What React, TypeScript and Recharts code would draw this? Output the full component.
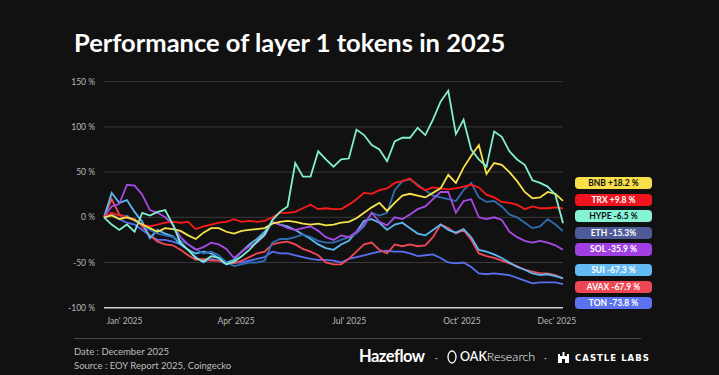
import React from 'react';
import { LineChart, Line, XAxis, YAxis, CartesianGrid } from 'recharts';

const days = [0, 6, 12, 18, 24, 30, 36, 42, 48, 54, 60, 66, 72, 78, 84, 90, 96, 102, 108, 114, 120, 126, 132, 138, 144, 150, 156, 162, 168, 174, 180, 186, 192, 198, 204, 210, 216, 222, 228, 234, 240, 246, 252, 258, 264, 270, 276, 282, 288, 294, 300, 306, 312, 318, 324, 330, 336, 342, 348, 354, 360];

const bnb = [0, 2, -2, 0, -3, -8, -12, -16, -12, -13, -15, -20, -24, -17, -12, -12, -16, -18, -15, -14, -13, -12, -7, -5, -4, -5, -7, -8, -7, -9, -8, -6, -5, -1, 5, 11, 16, 7, 16, 24, 26, 24, 22, 27, 32, 47, 38, 55, 68, 80, 48, 60, 58, 50, 40, 28, 21, 22, 28, 26, 18.2];
const trx = [0, 5, 2, 0, -3, -8, -10, -8, -6, -5, -6, -5, -13, -10, -8, -6, -5, -2, -5, -4, -5, -4, 0, 5, 5, 6, 10, 14, 9, 10, 9, 9, 14, 20, 27, 26, 30, 32, 38, 40, 43, 35, 30, 33, 32, 31, 32, 34, 36, 33, 25, 22, 17, 16, 14, 9, 12, 10, 10, 11, 9.8];
const hype = [0, -8, -14, -8, -16, 5, 2, 6, 8, -8, -28, -36, -45, -49, -43, -45, -52, -49, -43, -36, -27, -19, -3, 6, 12, 60, 45, 45, 73, 64, 56, 64, 65, 97, 91, 80, 75, 62, 84, 88, 88, 99, 91, 108, 128, 140, 92, 108, 75, 64, 56, 95, 89, 73, 64, 58, 41, 38, 34, 25, -6.5];
const eth = [0, 4, -2, 2, -4, -8, -14, -18, -20, -22, -26, -30, -35, -40, -38, -42, -50, -54, -52, -50, -50, -48, -28, -24, -24, -22, -19, -22, -26, -28, -28, -25, -22, -18, -10, 5, 2, 5, 30, 40, 42, 36, 30, 24, 22, 20, 18, 30, 38, 22, 17, 18, 12, 3, 0, -6, -12, -10, -2, -8, -15.3];
const sol = [0, 12, 15, 36, 35, 25, 8, 5, 0, -8, -22, -30, -36, -33, -28, -30, -35, -45, -38, -32, -28, -20, -5, -8, -12, -14, -12, -10, -15, -22, -25, -20, -22, -16, -8, 5, -5, -9, 0, -2, 3, 9, 12, 20, 28, 28, 5, 18, 20, 0, -2, 0, -3, -16, -22, -26, -28, -26, -28, -31, -35.9];
const sui = [0, 27, 16, 19, 6, -5, -23, -14, -18, -21, -30, -36, -40, -38, -40, -45, -50, -47, -38, -30, -24, -16, -5, -8, -10, -14, -19, -24, -30, -34, -36, -30, -26, -16, -4, -2, -6, -14, -8, -6, -12, -18, -20, -14, -8, -14, -17, -13, -22, -36, -38, -41, -45, -50, -55, -58, -62, -64, -63, -65, -67.3];
const avax = [0, 20, 3, 0, -2, -10, -20, -27, -30, -31, -36, -42, -47, -46, -48, -48, -50, -51, -48, -44, -40, -38, -30, -28, -27, -30, -35, -38, -42, -50, -52, -52, -46, -38, -30, -28, -36, -40, -30, -32, -30, -32, -31, -22, -8, -12, -18, -14, -25, -40, -43, -45, -48, -51, -54, -58, -60, -62, -62, -64, -67.9];
const ton = [0, 3, -2, -6, -8, -14, -20, -25, -25, -27, -30, -36, -44, -50, -46, -48, -52, -50, -50, -48, -46, -44, -38, -40, -40, -42, -44, -46, -47, -47, -48, -50, -46, -44, -42, -40, -38, -37, -38, -38, -40, -43, -42, -41, -45, -50, -51, -50, -55, -62, -63, -62, -63, -64, -67, -70, -73, -72, -72, -72, -73.8];

const yTicks = [-100, -50, 0, 50, 100, 150];
const xTickDays = [2, 89, 179, 266, 340];
const xTickLabels = ["Jan' 2025", "Apr' 2025", "Jul' 2025", "Oct' 2025", "Dec' 2025"];

const legendLabels = ['BNB +18.2 %', 'TRX +9.8 %', 'HYPE -6.5 %', 'ETH -15.3%', 'SOL -35.9 %', 'SUI -67.3 %', 'AVAX -67.9 %', 'TON -73.8 %'];

const seriesDefs = [
  { key: 'TON', values: ton, color: '#5a6ff0' },
  { key: 'AVAX', values: avax, color: '#f04a55' },
  { key: 'SUI', values: sui, color: '#5cb8f2' },
  { key: 'ETH', values: eth, color: '#2f6db3' },
  { key: 'SOL', values: sol, color: '#a84ae6' },
  { key: 'TRX', values: trx, color: '#ff1a1a' },
  { key: 'BNB', values: bnb, color: '#f7e24a' },
  { key: 'HYPE', values: hype, color: '#80f0d2' },
];

const pillStyles = [
  { bg: '#f9e04b', fg: '#111' },
  { bg: '#f0141e', fg: '#fff' },
  { bg: '#86f2d6', fg: '#111' },
  { bg: '#4f5b98', fg: '#fff' },
  { bg: '#a23fe0', fg: '#fff' },
  { bg: '#63b9f2', fg: '#fff' },
  { bg: '#ee4652', fg: '#fff' },
  { bg: '#5b73ef', fg: '#fff' },
];

const data = days.map((d, i) => {
  const row: any = { day: d };
  seriesDefs.forEach((s) => { row[s.key] = s.values[i]; });
  return row;
});

const XTick = (props: any) => {
  const { x, y, payload } = props;
  const idx = xTickDays.indexOf(payload.value);
  return (
    <text x={x} y={y + 8} textAnchor="start" fill="#b9b9b9" fontSize={8.5} fontFamily="Lato">
      {xTickLabels[idx]}
    </text>
  );
};

const YTick = (props: any) => {
  const { x, y, payload } = props;
  return (
    <text x={x} y={y} dy={3} textAnchor="end" fill="#b9b9b9" fontSize={8.5} fontFamily="Lato">
      {`${payload.value} %`}
    </text>
  );
};

export default function App() {
  return (
    <div style={{ position: 'absolute', left: 0, top: 0, width: 719, height: 375, background: '#111111', overflow: 'hidden', fontFamily: 'Lato' }}>
      <div style={{ position: 'absolute', left: 74, top: 29, fontSize: 25.5, lineHeight: '26px', fontWeight: 700, color: '#fff', whiteSpace: 'nowrap' }}>
        Performance of layer 1 tokens in 2025
      </div>
      <div style={{ position: 'absolute', left: 0, top: 0 }}>
        <LineChart width={719} height={375} data={data} margin={{ top: 81.7, right: 156, bottom: 47.3, left: 64 }}>
          <CartesianGrid vertical={false} stroke="#3a3a3a" strokeWidth={1} />
          <XAxis
            dataKey="day"
            type="number"
            domain={[0, 360]}
            ticks={xTickDays}
            tick={<XTick />}
            tickLine={false}
            axisLine={{ stroke: '#d0d0d0', strokeWidth: 1.5 }}
            height={20}
          />
          <YAxis
            type="number"
            domain={[-100, 150]}
            ticks={yTicks}
            tick={<YTick />}
            tickLine={false}
            axisLine={false}
            width={40}
            tickMargin={3}
          />
          {seriesDefs.map((s) => (
            <Line key={s.key} dataKey={s.key} stroke={s.color} strokeWidth={1.8} dot={false} isAnimationActive={false} type="linear" />
          ))}
        </LineChart>
      </div>
      {legendLabels.map((lab, i) => (
        <div key={lab} style={{
          position: 'absolute', left: 575, top: 177 + i * 16.6 + (i >= 5 ? 4 : 0), width: 77, height: 12.3,
          borderRadius: 4, background: pillStyles[i].bg, color: pillStyles[i].fg,
          fontSize: 8.5, fontWeight: 700, lineHeight: '12.3px', textAlign: 'center', whiteSpace: 'nowrap',
        }}>{lab}</div>
      ))}
      <div style={{ position: 'absolute', left: 74, top: 338, width: 567, height: 1, background: '#4a4a4a' }} />
      <div style={{ position: 'absolute', left: 74, top: 347, fontSize: 9.5, lineHeight: '10px', color: '#bdbdbd' }}>Date : December 2025</div>
      <div style={{ position: 'absolute', left: 74, top: 361, fontSize: 9.5, lineHeight: '10px', color: '#bdbdbd' }}>Source : EOY Report 2025, Coingecko</div>
      <div style={{ position: 'absolute', left: 359, top: 347, fontSize: 16.5, lineHeight: '19px', fontWeight: 700, color: '#fff', letterSpacing: -0.5 }}>Hazeflow</div>
      <div style={{ position: 'absolute', left: 435, top: 350, fontSize: 10, lineHeight: '14px', color: '#ccc' }}>·</div>
      <svg style={{ position: 'absolute', left: 446, top: 350 }} width={12} height={14}>
        <ellipse cx={6} cy={7} rx={4} ry={6} fill="none" stroke="#fff" strokeWidth={1.3} />
      </svg>
      <div style={{ position: 'absolute', left: 460, top: 350, fontSize: 12.5, lineHeight: '14px', color: '#fff', whiteSpace: 'nowrap' }}>
        <span style={{ fontWeight: 600 }}>OAK</span><span style={{ fontWeight: 300 }}>Research</span>
      </div>
      <div style={{ position: 'absolute', left: 544, top: 350, fontSize: 10, lineHeight: '14px', color: '#ccc' }}>·</div>
      <svg style={{ position: 'absolute', left: 557, top: 351 }} width={13} height={12}>
        <rect x={1} y={5} width={11} height={7} fill="#fff" />
        <rect x={1} y={3} width={2} height={2} fill="#fff" />
        <rect x={5.5} y={1} width={2} height={4} fill="#fff" />
        <rect x={10} y={3} width={2} height={2} fill="#fff" />
        <rect x={5} y={8} width={3} height={4} fill="#111" />
      </svg>
      <div style={{ position: 'absolute', left: 575, top: 351, fontSize: 9.5, lineHeight: '13px', fontWeight: 700, color: '#fff', letterSpacing: 1, fontFamily: 'DejaVu Sans Condensed', whiteSpace: 'nowrap' }}>CASTLE LABS</div>
    </div>
  );
}
